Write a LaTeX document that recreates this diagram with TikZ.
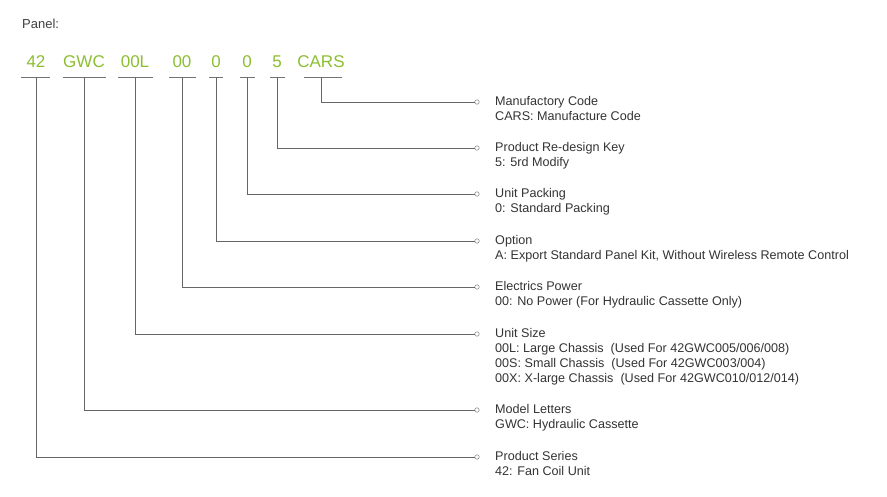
\documentclass[tikz,border=0pt]{standalone}
\usepackage{fontspec}
\setmainfont{Liberation Sans}
\begin{document}
\begin{tikzpicture}[x=1pt,y=-1pt,
  code/.style={font=\fontsize{17}{17}\selectfont, anchor=base, inner sep=0},
  bar/.style={draw=black!55, line width=0.6pt},
  lead/.style={draw=black!60, line width=0.6pt},
  desc/.style={anchor=north west, align=left, text=black!80, font=\fontsize{12.6}{15}\selectfont, inner sep=0},
  dot/.style={circle, draw=black!60, fill=white, inner sep=0, minimum size=4.5pt}]
\useasboundingbox (0,0) rectangle (887,496);
\definecolor{codegreen}{RGB}{140,190,50}
\node[anchor=base west, inner sep=0, text=black!75, font=\fontsize{13}{13}\selectfont] (title) at (22,28) {Panel:};
\foreach \n/\t/\x/\a/\b/\y in {a/42/36/21/50/457, b/GWC/84/63/106/410, c/00L/135/118/153/334, d/00/182/169/196/287, e/0/216/209/223/241, f/0/247/240/255/194, g/5/277/270/285/148, h/CARS/321/304/342/102}{
  \node[code, text=codegreen] (c\n) at (\x,67) {\t};
  \coordinate (l\n) at (\a,77); \coordinate (r\n) at (\b,77);
  \draw[bar] (l\n) -- (r\n);
  \coordinate (t\n) at (\x,77);
  \node[dot] (d\n) at (477,\y) {};
  \draw[lead] (t\n) |- (d\n.west);
}
\node[desc] (th) at (495,96) {Manufactory Code\\CARS: Manufacture Code};
\node[desc] (tg) at (495,142) {Product Re-design Key\\5: 5rd Modify};
\node[desc] (tf) at (495,188) {Unit Packing\\0: Standard Packing};
\node[desc] (te) at (495,235) {Option\\A: Export Standard Panel Kit, Without Wireless Remote Control};
\node[desc] (td) at (495,281) {Electrics Power\\00: No Power (For Hydraulic Cassette Only)};
\node[desc] (tc) at (495,328) {Unit Size\\00L: Large Chassis\ \ (Used For 42GWC005/006/008)\\00S: Small Chassis\ \ (Used For 42GWC003/004)\\00X: X-large Chassis\ \ (Used For 42GWC010/012/014)};
\node[desc] (tb) at (495,404) {Model Letters\\GWC: Hydraulic Cassette};
\node[desc] (ta) at (495,451) {Product Series\\42: Fan Coil Unit};
\end{tikzpicture}
\end{document}
